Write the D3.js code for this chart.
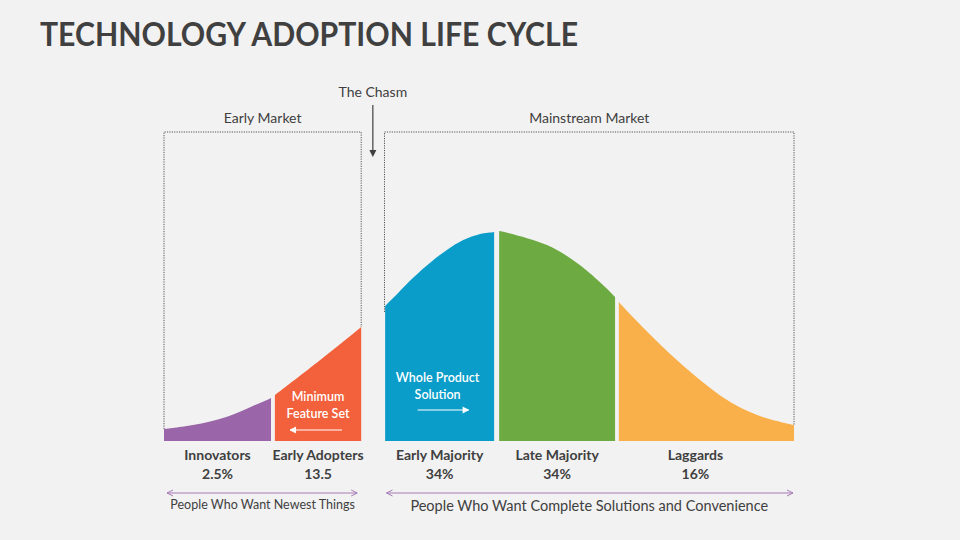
<!DOCTYPE html>
<html><head><meta charset="utf-8">
<script src="https://cdn.jsdelivr.net/npm/d3@7"></script>
<style>
html,body{margin:0;padding:0;background:#F2F2F2;}
svg{display:block;font-family:Lato,"Open Sans",sans-serif;}
</style></head>
<body><svg id="c" width="960" height="540"></svg>
<script>
// ---- data ----
// bell curve outline: position along adoption axis (0-100) and relative height (0-100)
const curveX = [0, 4.6, 10.0, 14.1, 17.0, 17.6, 24.8, 31.3, 35.1, 39.5, 42.2, 44.9, 47.5, 50.2, 52.4, 52.9, 53.2, 60.8, 66.0, 71.6, 72.2, 81.4, 89.4, 94.6, 100];
const curveY = [5.7, 7.6, 11.6, 16.7, 20.5, 21.9, 38.6, 54.3, 64.3, 77.6, 84.8, 91.0, 95.7, 98.6, 99.5, 100, 100, 93.3, 83.8, 68.6, 66.2, 38.6, 19.5, 11.9, 7.6];
const categories = ["Innovators", "Early Adopters", "Early Majority", "Late Majority", "Laggards"];
const shares = ["2.5%", "13.5", "34%", "34%", "16%"];
const segStart = [0, 17.6, 35.1, 53.2, 72.2];
const segEnd = [17.0, 31.3, 52.4, 71.6, 100];
const colors = ["#9A65A9", "#F2613C", "#0A9DC9", "#6DAA42", "#F9AF4A"];
const markets = ["Early Market", "Mainstream Market"];
const marketStart = [0, 35.0];
const marketEnd = [31.3, 100];
const groupTexts = ["People Who Want Newest Things", "People Who Want Complete Solutions and Convenience"];
const title = "TECHNOLOGY ADOPTION LIFE CYCLE";
const chasmLabel = "The Chasm";
const notes = [["Minimum", "Feature Set"], ["Whole Product", "Solution"]];

// ---- drawing ----
const svg = d3.select("#c");
const x = d3.scaleLinear().domain([0, 100]).range([164, 794]);
const y = d3.scaleLinear().domain([0, 100]).range([441, 231]);
const pts = curveX.map((v, i) => [v, curveY[i]]);
const textCol = "#404040";

svg.append("rect").attr("width", 960).attr("height", 540).attr("fill", "#F2F2F2");

svg.append("text").attr("x", 40).attr("y", 46).text(title)
  .attr("font-size", 32).attr("font-weight", 700).attr("fill", textCol)
  .attr("textLength", 538).attr("lengthAdjust", "spacingAndGlyphs");

const defs = svg.append("defs");
const curveType = d3.curveCatmullRom.alpha(0.5);
const area = d3.area().x(d => x(d[0])).y0(y(0)).y1(d => y(d[1])).curve(curveType);
const line = d3.line().x(d => x(d[0])).y(d => y(d[1])).curve(curveType);

categories.forEach((c, i) => {
  defs.append("clipPath").attr("id", "clip" + i).append("rect")
    .attr("x", x(segStart[i])).attr("y", 0)
    .attr("width", x(segEnd[i]) - x(segStart[i])).attr("height", y(0));
  svg.append("path").datum(pts).attr("d", area).attr("fill", colors[i])
    .attr("clip-path", `url(#clip${i})`);
});

// dotted market boxes (top follows frame, sides meet curve)
const curvePath = svg.append("path").datum(pts).attr("d", line).attr("fill", "none").attr("stroke", "none");
function curveAt(xv) {
  const node = curvePath.node(), L = node.getTotalLength();
  let lo = 0, hi = L;
  for (let k = 0; k < 40; k++) { const m = (lo + hi) / 2; if (node.getPointAtLength(m).x < x(xv)) lo = m; else hi = m; }
  return node.getPointAtLength(lo).y;
}
const boxTop = 132;
markets.forEach((m, i) => {
  const x0 = x(marketStart[i]), x1 = x(marketEnd[i]);
  const yl = i === 0 ? curveAt(marketStart[i]) : curveAt(segStart[2]) + 6;
  const yr = curveAt(marketEnd[i]);
  svg.append("path").attr("d", `M${x0},${yl}V${boxTop}H${x1}V${yr}`)
    .attr("fill", "none").attr("stroke", "#555").attr("stroke-width", 1).attr("stroke-dasharray", "1.2,1.2");
  svg.append("text").attr("x", (x0 + x1) / 2).attr("y", 123).attr("text-anchor", "middle")
    .attr("font-size", 14).attr("fill", textCol).text(m);
});

// chasm
const chasmX = (x(marketEnd[0]) + x(marketStart[1])) / 2;
svg.append("text").attr("x", chasmX).attr("y", 97).attr("text-anchor", "middle")
  .attr("font-size", 14).attr("fill", textCol).text(chasmLabel);
svg.append("line").attr("x1", chasmX).attr("x2", chasmX).attr("y1", 105).attr("y2", 152)
  .attr("stroke", "#404040").attr("stroke-width", 1.2);
svg.append("path").attr("d", `M${chasmX - 3.5},${150}L${chasmX + 3.5},${150}L${chasmX},${157}Z`).attr("fill", "#404040");

// category labels
categories.forEach((c, i) => {
  const cx = (x(segStart[i]) + x(segEnd[i])) / 2 - (i === 4 ? 11 : 0);
  svg.append("text").attr("x", cx).attr("y", 460).attr("text-anchor", "middle")
    .attr("font-size", 14).attr("font-weight", 700).attr("fill", textCol).text(c);
  svg.append("text").attr("x", cx).attr("y", 479).attr("text-anchor", "middle")
    .attr("font-size", 14).attr("font-weight", 700).attr("fill", textCol).text(shares[i]);
});

// notes inside segments
function arrow(x1, x2, yy, col, both) {
  svg.append("line").attr("x1", x1).attr("x2", x2).attr("y1", yy).attr("y2", yy).attr("stroke", col).attr("stroke-width", 1.2);
  const head = (tx, dir) => svg.append("path")
    .attr("d", `M${tx - dir * 6},${yy - 3}L${tx},${yy}L${tx - dir * 6},${yy + 3}`)
    .attr("fill", both ? "none" : col).attr("stroke", col).attr("stroke-width", both ? 1 : 0.8);
  if (both) { head(x1, -1); head(x2, 1); } else head(x2, Math.sign(x2 - x1));
}
const n1x = (x(segStart[1]) + x(segEnd[1])) / 2;
notes[0].forEach((t, k) => svg.append("text").attr("x", n1x).attr("y", 401 + k * 17).attr("text-anchor", "middle")
  .attr("font-size", 12.5).attr("font-weight", 600).attr("fill", "#fff").text(t));
arrow(n1x + 24, n1x - 28, 430, "#fff", false);
const n2x = (x(segStart[2]) + x(segEnd[2])) / 2 - 2;
notes[1].forEach((t, k) => svg.append("text").attr("x", n2x).attr("y", 382 + k * 17).attr("text-anchor", "middle")
  .attr("font-size", 12.5).attr("font-weight", 600).attr("fill", "#fff").text(t));
arrow(n2x - 20, n2x + 31, 410, "#fff", false);

// group arrows
const gy = 493;
arrow(x(marketStart[0]) + 3, x(marketEnd[0]) - 4, gy, "#A77BB5", true);
arrow(x(marketStart[1]) + 2, x(marketEnd[1]) - 1, gy, "#A77BB5", true);
svg.append("text").attr("x", (x(marketStart[0]) + x(marketEnd[0])) / 2).attr("y", 509).attr("text-anchor", "middle")
  .attr("font-size", 12.5).attr("fill", textCol).text(groupTexts[0]);
svg.append("text").attr("x", (x(marketStart[1]) + x(marketEnd[1])) / 2).attr("y", 511).attr("text-anchor", "middle")
  .attr("font-size", 14.5).attr("fill", textCol).text(groupTexts[1]);
</script></body></html>
